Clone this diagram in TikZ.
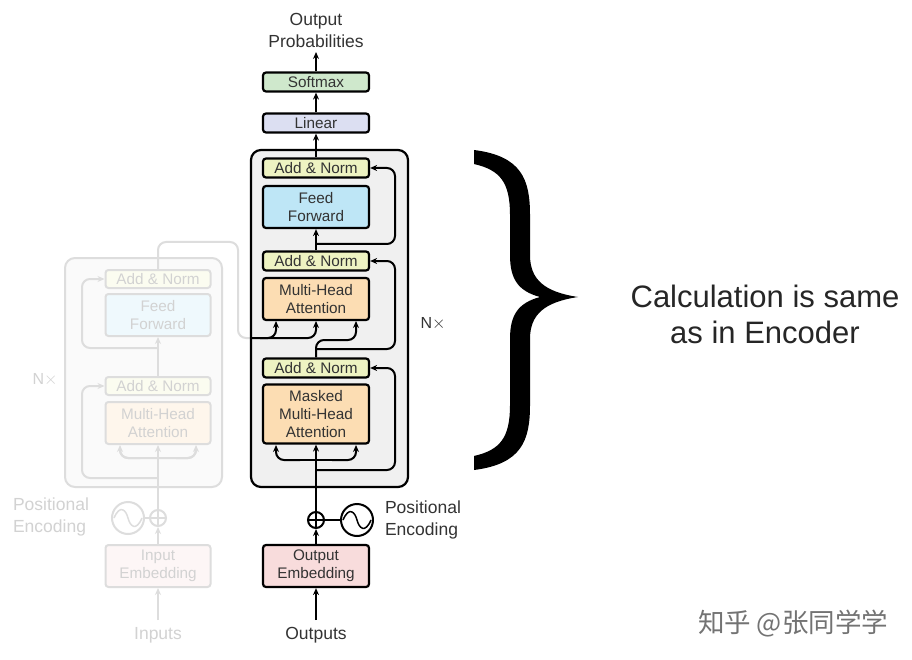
\documentclass[tikz,border=0pt]{standalone}
\usepackage{fontspec}
\setmainfont{Liberation Sans}
\newfontfamily\cjk{Noto Sans CJK SC}
\usetikzlibrary{arrows.meta}
\definecolor{ffblue}{HTML}{BEE6F6}
\definecolor{attor}{HTML}{FCDDB3}
\definecolor{anyel}{HTML}{EEF3C2}
\definecolor{linlav}{HTML}{DCDFF2}
\definecolor{smgreen}{HTML}{CFE8CC}
\definecolor{embpink}{HTML}{F8DCDC}
\definecolor{fadeln}{HTML}{DDDDDD}
\definecolor{fadetx}{HTML}{D2D2D2}
\begin{document}
\begin{tikzpicture}[x=1pt,y=-1pt,
  blk/.style={draw=black,line width=2.2pt,rounded corners=3pt,minimum width=106pt,inner sep=0pt,align=center,font=\fontsize{15.3}{18}\selectfont,text=black!80},
  fblk/.style={draw=fadeln,line width=2pt,rounded corners=3pt,minimum width=105pt,inner sep=0pt,align=center,font=\fontsize{15.3}{18}\selectfont,text=fadetx},
  ar/.style={line width=2pt,-{Stealth[length=7pt,width=6pt]},rounded corners=8pt},
  ln/.style={line width=2pt,rounded corners=8pt},
  far/.style={line width=2pt,draw=fadeln,-{Stealth[length=7pt,width=6pt]},rounded corners=8pt},
  fln/.style={line width=2pt,draw=fadeln,rounded corners=8pt},
  lbl/.style={font=\fontsize{17.5}{22}\selectfont,text=black!80,align=center}]
\useasboundingbox (0,0) rectangle (912,660);
\fill[white] (0,0) rectangle (912,660);
% ===== faded encoder =====
\draw[fadeln,line width=2pt,rounded corners=10pt,fill=black!2] (65,258) rectangle (222,487);
\node[fblk,minimum height=18pt,fill=anyel!25] (ean2) at (158,279) {Add \& Norm};
\node[fblk,minimum height=42pt,fill=ffblue!25] (eff) at (158,315) {Feed\\Forward};
\node[fblk,minimum height=18pt,fill=anyel!25] (ean1) at (158,386) {Add \& Norm};
\node[fblk,minimum height=42pt,fill=attor!25] (emha) at (158,423) {Multi-Head\\Attention};
\node[font=\fontsize{16}{19}\selectfont,text=fadetx] (enx) at (45,380) {N$\times$};
\node[fblk,minimum height=42pt,fill=embpink!25] (eemb) at (158,566) {Input\\Embedding};
\node[lbl,text=fadetx] (ein) at (158,635) {Inputs};
\draw[fadeln,line width=2pt] (158,518) circle (8pt);
\draw[fadeln,line width=1.5pt] (150,518)--(166,518) (158,510)--(158,526);
\draw[fadeln,line width=2pt] (128,518) circle (16pt);
\draw[fadeln,line width=1.5pt] (114,518) .. controls (120,504) and (126,510) .. (128,518) .. controls (130,526) and (136,532) .. (142,518);
\draw[fln] (144,518)--(150,518);
\node[lbl,text=fadetx,align=left] (epe) at (51,517) {Positional\\Encoding};
\draw[far] (158,620)--(eemb.south);
\draw[far] (eemb.north)--(158,527);
\draw[far] (158,510)--(emha.south);
\draw[fln] (158,458)--(120,458)--(120,452);
\draw[far] (140,458)--(120,458)--(120,445);
\draw[fln] (158,458)--(196,458)--(196,452);
\draw[far] (176,458)--(196,458)--(196,445);
\draw[far] (158,478)--(82,478)--(82,386)--(ean1.west);
\draw[far] (ean1.north)--(eff.south);
\draw[far] (158,348)--(82,348)--(82,279)--(ean2.west);
\draw[fln] (ean2.north)--(158,242)--(238,242)--(238,338)--(251,338);
% ===== decoder =====
\draw[line width=2.2pt,rounded corners=10pt,fill=black!6] (251,150) rectangle (408,487);
\node[blk,minimum height=19pt,fill=anyel] (an3) at (316,168) {Add \& Norm};
\node[blk,minimum height=42pt,fill=ffblue] (ff) at (316,207) {Feed\\Forward};
\node[blk,minimum height=19pt,fill=anyel] (an2) at (316,261) {Add \& Norm};
\node[blk,minimum height=42pt,fill=attor] (mha) at (316,299) {Multi-Head\\Attention};
\node[blk,minimum height=19pt,fill=anyel] (an1) at (316,368) {Add \& Norm};
\node[blk,minimum height=59pt,fill=attor] (mmha) at (316,414) {Masked\\Multi-Head\\Attention};
\node[blk,minimum height=19pt,fill=linlav] (lin) at (316,123) {Linear};
\node[blk,minimum height=19pt,fill=smgreen] (sm) at (316,82) {Softmax};
\node[blk,minimum height=42pt,fill=embpink] (emb) at (316,566) {Output\\Embedding};
\node[lbl] (outs) at (316,635) {Outputs};
\node[lbl] (prob) at (316,30) {Output\\Probabilities};
\node[font=\fontsize{16}{19}\selectfont,text=black!80] (nx) at (433,324) {N$\times$};
\node[lbl,align=left] (pe) at (423,520) {Positional\\Encoding};
\node[draw,line width=2pt,circle,minimum size=16pt,inner sep=0pt] (plus) at (316,520) {};
\draw[line width=1.5pt] (308,520)--(324,520) (316,512)--(316,528);
\node[draw,line width=2pt,circle,minimum size=32pt,inner sep=0pt] (sine) at (357,520) {};
\draw[line width=1.5pt] (343,520) .. controls (349,506) and (355,512) .. (357,520) .. controls (359,528) and (365,534) .. (371,520);
\draw[line width=2pt] (plus)--(sine);
\draw[ar] (316,620)--(emb.south);
\draw[ar] (emb.north)--(plus);
\draw[ar] (plus)--(mmha.south);
\draw[ln] (316,460)--(300,460);
\draw[ln] (316,460)--(332,460);
\draw[ar] (300,460)--(276,460)--(276,445);
\draw[ar] (332,460)--(356,460)--(356,445);
\draw[ar] (316,470)--(395,470)--(395,368)--(an1.east);
\draw[ln] (an1.north)--(316,340)--(340,340);
\draw[ar] (340,340)--(356,340)--(356,321);
\draw[ar] (316,349)--(395,349)--(395,261)--(an2.east);
\draw[ar] (251,338)--(276,338)--(276,321);
\draw[ar] (260,338)--(316,338)--(316,321);
\draw[ar] (an2.north)--(ff.south);
\draw[ar] (316,244)--(395,244)--(395,168)--(an3.east);
\draw[ar] (an3.north)--(lin.south);
\draw[ar] (lin.north)--(sm.south);
\draw[ar] (sm.north)--(316,52);
% ===== brace =====
\fill[black] (474,150) .. controls (522,156) and (530,180) .. (530,215)
  -- (530,255) .. controls (530,280) and (545,292) .. (578,297)
  .. controls (545,302) and (530,314) .. (530,339)
  -- (530,405) .. controls (530,440) and (522,464) .. (474,470)
  -- (474,456) .. controls (500,450) and (510,438) .. (510,405)
  -- (510,339) .. controls (510,315) and (518,303) .. (540,297)
  .. controls (518,291) and (510,279) .. (510,255)
  -- (510,215) .. controls (510,182) and (500,170) .. (474,164) -- cycle;
\node[font=\fontsize{31}{36}\selectfont,text=black!85,align=center] (calc) at (765,314) {Calculation is same\\as in Encoder};
\node[font=\cjk\fontsize{26.5}{28}\selectfont,text=black!55] (wm) at (793,624) {知乎 @张同学学};
\end{tikzpicture}
\end{document}
